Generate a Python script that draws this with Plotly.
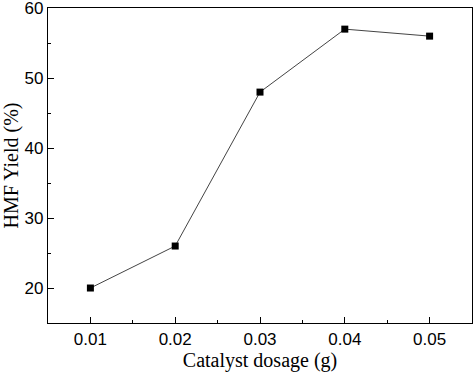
import plotly.graph_objects as go

catalyst_g = [0.01, 0.02, 0.03, 0.04, 0.05]
hmf_yield = [20, 26, 48, 57, 56]
x_ticks = [0.01, 0.02, 0.03, 0.04, 0.05]
x_tick_labels = ["0.01", "0.02", "0.03", "0.04", "0.05"]
y_ticks = [20, 30, 40, 50, 60]

fig = go.Figure()
fig.add_trace(go.Scatter(
    x=catalyst_g, y=hmf_yield, mode="lines+markers",
    line=dict(color="#444444", width=1),
    marker=dict(symbol="square", size=7, color="black"),
    showlegend=False,
))

axis_common = dict(
    showline=True, linecolor="black", linewidth=1.3, mirror=True,
    showgrid=False, zeroline=False, automargin=False,
    ticks="inside", ticklen=6, tickwidth=1.2, tickcolor="black",
    ticklabeloverflow="allow",
    tickfont=dict(family="Liberation Sans, Arial", size=17, color="black"),
    minor=dict(ticks="inside", ticklen=3, tickwidth=1.2, tickcolor="black"),
)

fig.update_xaxes(
    range=[0.005, 0.055], tickvals=x_ticks, ticktext=x_tick_labels,
    minor_dtick=0.005,
    title=dict(text="Catalyst dosage (g)", standoff=4,
               font=dict(family="Liberation Serif, Times New Roman", size=20, color="black")),
    **axis_common,
)
fig.update_yaxes(
    range=[15, 60.02], tickvals=y_ticks, minor_dtick=5,
    title=dict(text="HMF Yield (%)", standoff=4,
               font=dict(family="Liberation Serif, Times New Roman", size=20, color="black")),
    **axis_common,
)

fig.update_layout(
    width=474, height=373,
    margin=dict(l=48, r=2, t=8, b=50),
    plot_bgcolor="white", paper_bgcolor="white",
)

fig.write_html("out.html", config={"displayModeBar": False},
               post_script="document.body.style.margin='0';")
